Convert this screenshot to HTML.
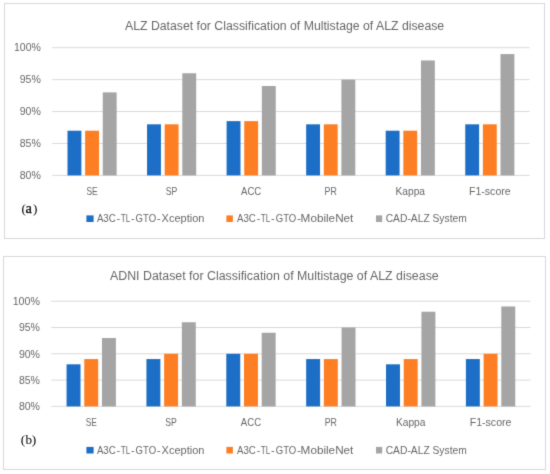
<!DOCTYPE html>
<html><head><meta charset="utf-8"><title>Chart</title>
<style>
html,body{margin:0;padding:0;background:#fff;}
body{width:550px;height:474px;overflow:hidden;}
svg{display:block;font-family:"Liberation Sans", sans-serif;will-change:transform;}
text{stroke:#676767;stroke-width:0px;stroke:none;}
</style></head>
<body>
<svg width="550" height="474" viewBox="0 0 550 474">
<defs><filter id="soft" filterUnits="userSpaceOnUse" x="0" y="0" width="550" height="474" color-interpolation-filters="sRGB"><feConvolveMatrix order="3" kernelMatrix="0.0144 0.0912 0.0144 0.0912 0.5776 0.0912 0.0144 0.0912 0.0144" edgeMode="duplicate"/></filter></defs>
<g filter="url(#soft)">
<rect width="550" height="474" fill="#fff"/>
<rect x="4.5" y="3.5" width="540" height="235" fill="none" stroke="#d9d9d9" stroke-width="1"/>
<text x="125" y="30" font-size="12" textLength="319.2" lengthAdjust="spacingAndGlyphs" fill="#676767">ALZ Dataset for Classification of Multistage of ALZ disease</text>
<line x1="52.3" y1="47.7" x2="529.6" y2="47.7" stroke="#d9d9d9" stroke-width="1"/>
<text x="14" y="51.3" font-size="11.2" textLength="26.8" lengthAdjust="spacingAndGlyphs" fill="#676767">100%</text>
<line x1="52.3" y1="79.62" x2="529.6" y2="79.62" stroke="#d9d9d9" stroke-width="1"/>
<text x="19.7" y="83.22" font-size="11.2" textLength="21.1" lengthAdjust="spacingAndGlyphs" fill="#676767">95%</text>
<line x1="52.3" y1="111.55" x2="529.6" y2="111.55" stroke="#d9d9d9" stroke-width="1"/>
<text x="19.7" y="115.15" font-size="11.2" textLength="21.1" lengthAdjust="spacingAndGlyphs" fill="#676767">90%</text>
<line x1="52.3" y1="143.48" x2="529.6" y2="143.48" stroke="#d9d9d9" stroke-width="1"/>
<text x="19.7" y="147.08" font-size="11.2" textLength="21.1" lengthAdjust="spacingAndGlyphs" fill="#676767">85%</text>
<line x1="52.3" y1="175.4" x2="529.6" y2="175.4" stroke="#d9d9d9" stroke-width="1"/>
<text x="19.7" y="179" font-size="11.2" textLength="21.1" lengthAdjust="spacingAndGlyphs" fill="#676767">80%</text>
<rect x="67.5" y="130.71" width="13.88" height="44.69" fill="#1c6ec6"/>
<rect x="85.13" y="130.71" width="13.88" height="44.69" fill="#fd7e23"/>
<rect x="102.76" y="92.4" width="13.88" height="83" fill="#a5a5a5"/>
<text x="86.47" y="195.3" font-size="11" textLength="11.2" lengthAdjust="spacingAndGlyphs" fill="#676767">SE</text>
<rect x="147.05" y="124.32" width="13.88" height="51.08" fill="#1c6ec6"/>
<rect x="164.68" y="124.32" width="13.88" height="51.08" fill="#fd7e23"/>
<rect x="182.31" y="73.24" width="13.88" height="102.16" fill="#a5a5a5"/>
<text x="165.82" y="195.3" font-size="11" textLength="11.6" lengthAdjust="spacingAndGlyphs" fill="#676767">SP</text>
<rect x="226.6" y="121.13" width="13.88" height="54.27" fill="#1c6ec6"/>
<rect x="244.23" y="121.13" width="13.88" height="54.27" fill="#fd7e23"/>
<rect x="261.86" y="86.01" width="13.88" height="89.39" fill="#a5a5a5"/>
<text x="241.08" y="195.3" font-size="11" textLength="20.2" lengthAdjust="spacingAndGlyphs" fill="#676767">ACC</text>
<rect x="306.15" y="124.32" width="13.88" height="51.08" fill="#1c6ec6"/>
<rect x="323.78" y="124.32" width="13.88" height="51.08" fill="#fd7e23"/>
<rect x="341.41" y="79.63" width="13.88" height="95.77" fill="#a5a5a5"/>
<text x="324.62" y="195.3" font-size="11" textLength="12.2" lengthAdjust="spacingAndGlyphs" fill="#676767">PR</text>
<rect x="385.7" y="130.71" width="13.88" height="44.69" fill="#1c6ec6"/>
<rect x="403.33" y="130.71" width="13.88" height="44.69" fill="#fd7e23"/>
<rect x="420.96" y="60.47" width="13.88" height="114.93" fill="#a5a5a5"/>
<text x="395.52" y="195.3" font-size="11" textLength="29.5" lengthAdjust="spacingAndGlyphs" fill="#676767">Kappa</text>
<rect x="465.25" y="124.32" width="13.88" height="51.08" fill="#1c6ec6"/>
<rect x="482.88" y="124.32" width="13.88" height="51.08" fill="#fd7e23"/>
<rect x="500.51" y="54.09" width="13.88" height="121.31" fill="#a5a5a5"/>
<text x="468.93" y="195.3" font-size="11" textLength="41.8" lengthAdjust="spacingAndGlyphs" fill="#676767">F1-score</text>
<text x="21.4" y="213" font-family='"Liberation Serif", serif' font-size="13.2" font-weight="normal" fill="#000" style="stroke:#000;stroke-width:0px">(</text>
<text x="25.6" y="213" font-family='"Liberation Serif", serif' font-size="14.4" font-weight="normal" fill="#000" style="stroke:#000;stroke-width:0.25px">a</text>
<text x="33" y="213" font-family='"Liberation Serif", serif' font-size="13.2" font-weight="normal" fill="#000" style="stroke:#000;stroke-width:0px">)</text>
<rect x="86.4" y="215.4" width="7.2" height="6.6" fill="#1c6ec6"/>
<text x="96.88" y="222.3" font-size="11" textLength="18.89" lengthAdjust="spacingAndGlyphs" fill="#676767">A3C</text>
<text x="116.64" y="222.3" font-size="11" textLength="3.41" lengthAdjust="spacingAndGlyphs" fill="#676767">-</text>
<text x="120.71" y="222.3" font-size="11" textLength="9.66" lengthAdjust="spacingAndGlyphs" fill="#676767">TL</text>
<text x="131.01" y="222.3" font-size="11" textLength="3.68" lengthAdjust="spacingAndGlyphs" fill="#676767">-</text>
<text x="135.62" y="222.3" font-size="11" textLength="20.53" lengthAdjust="spacingAndGlyphs" fill="#676767">GTO</text>
<text x="156.87" y="222.3" font-size="11" textLength="3.96" lengthAdjust="spacingAndGlyphs" fill="#676767">-</text>
<text x="161.55" y="222.3" font-size="11" textLength="42.86" lengthAdjust="spacingAndGlyphs" fill="#676767">Xception</text>
<rect x="226.4" y="215.4" width="6.5" height="6.6" fill="#fd7e23"/>
<text x="236.98" y="222.3" font-size="11" textLength="18.89" lengthAdjust="spacingAndGlyphs" fill="#676767">A3C</text>
<text x="256.75" y="222.3" font-size="11" textLength="3.41" lengthAdjust="spacingAndGlyphs" fill="#676767">-</text>
<text x="260.81" y="222.3" font-size="11" textLength="9.66" lengthAdjust="spacingAndGlyphs" fill="#676767">TL</text>
<text x="271.11" y="222.3" font-size="11" textLength="3.68" lengthAdjust="spacingAndGlyphs" fill="#676767">-</text>
<text x="275.72" y="222.3" font-size="11" textLength="20.53" lengthAdjust="spacingAndGlyphs" fill="#676767">GTO</text>
<text x="296.97" y="222.3" font-size="11" textLength="3.96" lengthAdjust="spacingAndGlyphs" fill="#676767">-</text>
<text x="300.64" y="222.3" font-size="11" textLength="52.75" lengthAdjust="spacingAndGlyphs" fill="#676767">MobileNet</text>
<rect x="376" y="215.4" width="6.2" height="6.6" fill="#a5a5a5"/>
<text x="385.7" y="222.3" font-size="11" textLength="81.1" lengthAdjust="spacingAndGlyphs" fill="#676767">CAD-ALZ System</text>
<rect x="3.5" y="256.5" width="542" height="213" fill="none" stroke="#d9d9d9" stroke-width="1"/>
<text x="110" y="279.8" font-size="12" textLength="328.7" lengthAdjust="spacingAndGlyphs" fill="#676767">ADNI Dataset for Classification of Multistage of ALZ disease</text>
<line x1="51.3" y1="301.2" x2="530.5" y2="301.2" stroke="#d9d9d9" stroke-width="1"/>
<text x="12.7" y="305.1" font-size="11.2" textLength="27.3" lengthAdjust="spacingAndGlyphs" fill="#676767">100%</text>
<line x1="51.3" y1="327.5" x2="530.5" y2="327.5" stroke="#d9d9d9" stroke-width="1"/>
<text x="18.9" y="331.4" font-size="11.2" textLength="21.1" lengthAdjust="spacingAndGlyphs" fill="#676767">95%</text>
<line x1="51.3" y1="353.8" x2="530.5" y2="353.8" stroke="#d9d9d9" stroke-width="1"/>
<text x="18.9" y="357.7" font-size="11.2" textLength="21.1" lengthAdjust="spacingAndGlyphs" fill="#676767">90%</text>
<line x1="51.3" y1="380.1" x2="530.5" y2="380.1" stroke="#d9d9d9" stroke-width="1"/>
<text x="18.9" y="384" font-size="11.2" textLength="21.1" lengthAdjust="spacingAndGlyphs" fill="#676767">85%</text>
<line x1="51.3" y1="406.4" x2="530.5" y2="406.4" stroke="#d9d9d9" stroke-width="1"/>
<text x="18.9" y="410.3" font-size="11.2" textLength="21.1" lengthAdjust="spacingAndGlyphs" fill="#676767">80%</text>
<rect x="66.56" y="364.32" width="13.94" height="42.08" fill="#1c6ec6"/>
<rect x="84.26" y="359.06" width="13.94" height="47.34" fill="#fd7e23"/>
<rect x="101.97" y="338.02" width="13.94" height="68.38" fill="#a5a5a5"/>
<text x="85.63" y="426.4" font-size="11" textLength="11.2" lengthAdjust="spacingAndGlyphs" fill="#676767">SE</text>
<rect x="146.43" y="359.06" width="13.94" height="47.34" fill="#1c6ec6"/>
<rect x="164.13" y="353.8" width="13.94" height="52.6" fill="#fd7e23"/>
<rect x="181.83" y="322.24" width="13.94" height="84.16" fill="#a5a5a5"/>
<text x="165.3" y="426.4" font-size="11" textLength="11.6" lengthAdjust="spacingAndGlyphs" fill="#676767">SP</text>
<rect x="226.3" y="353.8" width="13.94" height="52.6" fill="#1c6ec6"/>
<rect x="244" y="353.8" width="13.94" height="52.6" fill="#fd7e23"/>
<rect x="261.7" y="332.76" width="13.94" height="73.64" fill="#a5a5a5"/>
<text x="240.87" y="426.4" font-size="11" textLength="20.2" lengthAdjust="spacingAndGlyphs" fill="#676767">ACC</text>
<rect x="306.16" y="359.06" width="13.94" height="47.34" fill="#1c6ec6"/>
<rect x="323.86" y="359.06" width="13.94" height="47.34" fill="#fd7e23"/>
<rect x="341.57" y="327.5" width="13.94" height="78.9" fill="#a5a5a5"/>
<text x="324.73" y="426.4" font-size="11" textLength="12.2" lengthAdjust="spacingAndGlyphs" fill="#676767">PR</text>
<rect x="386.03" y="364.32" width="13.94" height="42.08" fill="#1c6ec6"/>
<rect x="403.73" y="359.06" width="13.94" height="47.34" fill="#fd7e23"/>
<rect x="421.43" y="311.72" width="13.94" height="94.68" fill="#a5a5a5"/>
<text x="395.95" y="426.4" font-size="11" textLength="29.5" lengthAdjust="spacingAndGlyphs" fill="#676767">Kappa</text>
<rect x="465.9" y="359.06" width="13.94" height="47.34" fill="#1c6ec6"/>
<rect x="483.6" y="353.8" width="13.94" height="52.6" fill="#fd7e23"/>
<rect x="501.3" y="306.46" width="13.94" height="99.94" fill="#a5a5a5"/>
<text x="469.67" y="426.4" font-size="11" textLength="41.8" lengthAdjust="spacingAndGlyphs" fill="#676767">F1-score</text>
<text x="20.8" y="444" font-family='"Liberation Serif", serif' font-size="13.4" font-weight="normal" fill="#000" style="stroke:#000;stroke-width:0px">(</text>
<text x="25.5" y="444" font-family='"Liberation Serif", serif' font-size="13.2" font-weight="normal" fill="#000" style="stroke:#000;stroke-width:0px">b</text>
<text x="31.8" y="444" font-family='"Liberation Serif", serif' font-size="13.4" font-weight="normal" fill="#000" style="stroke:#000;stroke-width:0px">)</text>
<rect x="86.4" y="446.9" width="7.2" height="6.6" fill="#1c6ec6"/>
<text x="96.88" y="454" font-size="11" textLength="18.89" lengthAdjust="spacingAndGlyphs" fill="#676767">A3C</text>
<text x="116.64" y="454" font-size="11" textLength="3.41" lengthAdjust="spacingAndGlyphs" fill="#676767">-</text>
<text x="120.71" y="454" font-size="11" textLength="9.66" lengthAdjust="spacingAndGlyphs" fill="#676767">TL</text>
<text x="131.01" y="454" font-size="11" textLength="3.68" lengthAdjust="spacingAndGlyphs" fill="#676767">-</text>
<text x="135.62" y="454" font-size="11" textLength="20.53" lengthAdjust="spacingAndGlyphs" fill="#676767">GTO</text>
<text x="156.87" y="454" font-size="11" textLength="3.96" lengthAdjust="spacingAndGlyphs" fill="#676767">-</text>
<text x="161.55" y="454" font-size="11" textLength="42.86" lengthAdjust="spacingAndGlyphs" fill="#676767">Xception</text>
<rect x="226.4" y="446.9" width="6.5" height="6.6" fill="#fd7e23"/>
<text x="236.98" y="454" font-size="11" textLength="18.89" lengthAdjust="spacingAndGlyphs" fill="#676767">A3C</text>
<text x="256.75" y="454" font-size="11" textLength="3.41" lengthAdjust="spacingAndGlyphs" fill="#676767">-</text>
<text x="260.81" y="454" font-size="11" textLength="9.66" lengthAdjust="spacingAndGlyphs" fill="#676767">TL</text>
<text x="271.11" y="454" font-size="11" textLength="3.68" lengthAdjust="spacingAndGlyphs" fill="#676767">-</text>
<text x="275.72" y="454" font-size="11" textLength="20.53" lengthAdjust="spacingAndGlyphs" fill="#676767">GTO</text>
<text x="296.97" y="454" font-size="11" textLength="3.96" lengthAdjust="spacingAndGlyphs" fill="#676767">-</text>
<text x="300.64" y="454" font-size="11" textLength="52.75" lengthAdjust="spacingAndGlyphs" fill="#676767">MobileNet</text>
<rect x="376" y="446.9" width="6.2" height="6.6" fill="#a5a5a5"/>
<text x="385.7" y="454" font-size="11" textLength="81.1" lengthAdjust="spacingAndGlyphs" fill="#676767">CAD-ALZ System</text>
</g>
</svg>
</body></html>
